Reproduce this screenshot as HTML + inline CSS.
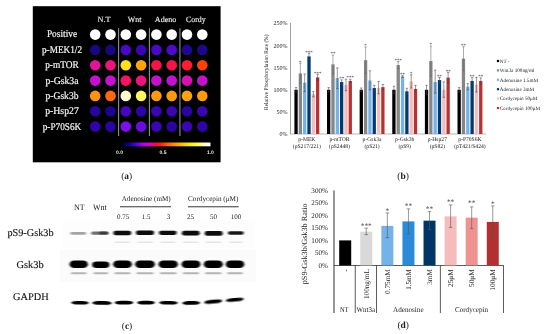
<!DOCTYPE html>
<html lang="en"><head><meta charset="utf-8"><title>Figure</title>
<style>html,body{margin:0;padding:0;background:#fff}body{width:550px;height:334px;overflow:hidden}svg{display:block}text{text-rendering:geometricPrecision}.fs{font-family:"Liberation Serif","DejaVu Serif",serif}.fn{font-family:"Liberation Sans","DejaVu Sans",sans-serif}</style></head><body>
<svg width="550" height="334" viewBox="0 0 550 334">
<defs>
<linearGradient id="cb" x1="0" x2="1" y1="0" y2="0">
<stop offset="0" stop-color="#000000"/>
<stop offset="0.05" stop-color="#000058"/>
<stop offset="0.12" stop-color="#2000b8"/>
<stop offset="0.18" stop-color="#6000ec"/>
<stop offset="0.25" stop-color="#b000f0"/>
<stop offset="0.31" stop-color="#e000c0"/>
<stop offset="0.38" stop-color="#f80060"/>
<stop offset="0.44" stop-color="#ff2010"/>
<stop offset="0.52" stop-color="#ff6000"/>
<stop offset="0.62" stop-color="#ffa000"/>
<stop offset="0.74" stop-color="#ffe000"/>
<stop offset="0.85" stop-color="#ffff40"/>
<stop offset="0.93" stop-color="#ffffc0"/>
<stop offset="1" stop-color="#ffffff"/>
</linearGradient>
<filter id="b1" x="-20%" y="-100%" width="140%" height="300%"><feGaussianBlur stdDeviation="1.3 0.7"/></filter>
<filter id="b2" x="-20%" y="-100%" width="140%" height="300%"><feGaussianBlur stdDeviation="1.2 0.5"/></filter>
<filter id="soft" x="-5%" y="-5%" width="110%" height="110%"><feGaussianBlur stdDeviation="0.35"/></filter>
</defs>
<rect width="550" height="334" fill="#fff"/>
<g id="pa">
<rect x="32.8" y="6.2" width="187.8" height="156.1" fill="#000"/>
<text class="fs" x="62" y="37.1" font-size="10.3" text-anchor="middle" fill="#f4f4f4" textLength="30.2" lengthAdjust="spacingAndGlyphs" stroke="#f4f4f4" stroke-width="0.2">Positive</text>
<circle cx="95.2" cy="34.6" r="5.3" fill="#ffffff"/>
<circle cx="110.5" cy="34.6" r="5.3" fill="#ffffff"/>
<circle cx="125.8" cy="34.6" r="5.3" fill="#ffffff"/>
<circle cx="141.1" cy="34.6" r="5.3" fill="#ffffff"/>
<circle cx="156.4" cy="34.6" r="5.3" fill="#ffffff"/>
<circle cx="171.7" cy="34.6" r="5.3" fill="#ffffff"/>
<circle cx="187.0" cy="34.6" r="5.3" fill="#ffffff"/>
<circle cx="202.3" cy="34.6" r="5.3" fill="#ffffff"/>
<text class="fs" x="62" y="53.0" font-size="10.3" text-anchor="middle" fill="#f4f4f4" textLength="40" lengthAdjust="spacingAndGlyphs" stroke="#f4f4f4" stroke-width="0.2">p-MEK1/2</text>
<circle cx="95.2" cy="49.9" r="5.3" fill="#180880"/>
<circle cx="110.5" cy="49.9" r="5.3" fill="#180880"/>
<circle cx="125.8" cy="49.9" r="5.3" fill="#4808c4"/>
<circle cx="141.1" cy="49.9" r="5.3" fill="#3a06b2"/>
<circle cx="156.4" cy="49.9" r="5.3" fill="#4808c4"/>
<circle cx="171.7" cy="49.9" r="5.3" fill="#5208cc"/>
<circle cx="187.0" cy="49.9" r="5.3" fill="#1e0890"/>
<circle cx="202.3" cy="49.9" r="5.3" fill="#1c088c"/>
<text class="fs" x="62" y="68.4" font-size="10.3" text-anchor="middle" fill="#f4f4f4" textLength="33.6" lengthAdjust="spacingAndGlyphs" stroke="#f4f4f4" stroke-width="0.2">p-mTOR</text>
<circle cx="95.2" cy="65.3" r="5.3" fill="#e0149a"/>
<circle cx="110.5" cy="65.3" r="5.3" fill="#ea167c"/>
<circle cx="125.8" cy="65.3" r="5.3" fill="#ffe01a"/>
<circle cx="141.1" cy="65.3" r="5.3" fill="#ffa50a"/>
<circle cx="156.4" cy="65.3" r="5.3" fill="#f41648"/>
<circle cx="171.7" cy="65.3" r="5.3" fill="#f41648"/>
<circle cx="187.0" cy="65.3" r="5.3" fill="#fa1c34"/>
<circle cx="202.3" cy="65.3" r="5.3" fill="#ff4208"/>
<text class="fs" x="62" y="83.7" font-size="10.3" text-anchor="middle" fill="#f4f4f4" textLength="32.9" lengthAdjust="spacingAndGlyphs" stroke="#f4f4f4" stroke-width="0.2">p-Gsk3a</text>
<circle cx="95.2" cy="80.6" r="5.3" fill="#c612d0"/>
<circle cx="110.5" cy="80.6" r="5.3" fill="#c612d0"/>
<circle cx="125.8" cy="80.6" r="5.3" fill="#f41462"/>
<circle cx="141.1" cy="80.6" r="5.3" fill="#ea147e"/>
<circle cx="156.4" cy="80.6" r="5.3" fill="#c212cc"/>
<circle cx="171.7" cy="80.6" r="5.3" fill="#c012d4"/>
<circle cx="187.0" cy="80.6" r="5.3" fill="#d412b2"/>
<circle cx="202.3" cy="80.6" r="5.3" fill="#c212ca"/>
<text class="fs" x="62" y="99.0" font-size="10.3" text-anchor="middle" fill="#f4f4f4" textLength="32.9" lengthAdjust="spacingAndGlyphs" stroke="#f4f4f4" stroke-width="0.2">p-Gsk3b</text>
<circle cx="95.2" cy="95.9" r="5.3" fill="#ff9210"/>
<circle cx="110.5" cy="95.9" r="5.3" fill="#ff6a10"/>
<circle cx="125.8" cy="95.9" r="5.3" fill="#fffad2"/>
<circle cx="141.1" cy="95.9" r="5.3" fill="#fff564"/>
<circle cx="156.4" cy="95.9" r="5.3" fill="#ff9a10"/>
<circle cx="171.7" cy="95.9" r="5.3" fill="#ff9a10"/>
<circle cx="187.0" cy="95.9" r="5.3" fill="#ffa210"/>
<circle cx="202.3" cy="95.9" r="5.3" fill="#ff9a10"/>
<text class="fs" x="62" y="114.3" font-size="10.3" text-anchor="middle" fill="#f4f4f4" textLength="33.6" lengthAdjust="spacingAndGlyphs" stroke="#f4f4f4" stroke-width="0.2">p-Hsp27</text>
<circle cx="95.2" cy="111.2" r="5.3" fill="#2a04a0"/>
<circle cx="110.5" cy="111.2" r="5.3" fill="#1c0490"/>
<circle cx="125.8" cy="111.2" r="5.3" fill="#4806c4"/>
<circle cx="141.1" cy="111.2" r="5.3" fill="#2e04a8"/>
<circle cx="156.4" cy="111.2" r="5.3" fill="#3a06b2"/>
<circle cx="171.7" cy="111.2" r="5.3" fill="#3a06b2"/>
<circle cx="187.0" cy="111.2" r="5.3" fill="#2a04a0"/>
<circle cx="202.3" cy="111.2" r="5.3" fill="#3a06b2"/>
<text class="fs" x="62" y="129.7" font-size="10.3" text-anchor="middle" fill="#f4f4f4" textLength="38.6" lengthAdjust="spacingAndGlyphs" stroke="#f4f4f4" stroke-width="0.2">p-P70S6K</text>
<circle cx="95.2" cy="126.6" r="5.3" fill="#3004a8"/>
<circle cx="110.5" cy="126.6" r="5.3" fill="#2a04a0"/>
<circle cx="125.8" cy="126.6" r="5.3" fill="#7a10ea"/>
<circle cx="141.1" cy="126.6" r="5.3" fill="#6a0cde"/>
<circle cx="156.4" cy="126.6" r="5.3" fill="#3a06b2"/>
<circle cx="171.7" cy="126.6" r="5.3" fill="#2a04a0"/>
<circle cx="187.0" cy="126.6" r="5.3" fill="#3a06b2"/>
<circle cx="202.3" cy="126.6" r="5.3" fill="#3004a8"/>
<rect x="118.2" y="28.2" width="0.9" height="107.8" fill="#adadad"/>
<rect x="148.9" y="28.2" width="0.9" height="107.8" fill="#adadad"/>
<rect x="179.5" y="28.2" width="0.9" height="107.8" fill="#adadad"/>
<text class="fs" x="104" y="22.0" font-size="8" text-anchor="middle" fill="#f0f0f0" textLength="13" lengthAdjust="spacingAndGlyphs" stroke="#f0f0f0" stroke-width="0.12">N.T</text>
<text class="fs" x="134.6" y="22.0" font-size="8" text-anchor="middle" fill="#f0f0f0" textLength="13.5" lengthAdjust="spacingAndGlyphs" stroke="#f0f0f0" stroke-width="0.12">Wnt</text>
<text class="fs" x="165.6" y="22.0" font-size="8" text-anchor="middle" fill="#f0f0f0" textLength="21.5" lengthAdjust="spacingAndGlyphs" stroke="#f0f0f0" stroke-width="0.12">Adeno</text>
<text class="fs" x="195.8" y="22.0" font-size="8" text-anchor="middle" fill="#f0f0f0" textLength="19.5" lengthAdjust="spacingAndGlyphs" stroke="#f0f0f0" stroke-width="0.12">Cordy</text>
<rect x="121" y="142.5" width="89.5" height="3.8" fill="url(#cb)"/>
<text class="fn" x="119.6" y="154.2" font-size="5" text-anchor="middle" fill="#e8e8e8" font-weight="bold">0.0</text>
<text class="fn" x="163" y="154.2" font-size="5" text-anchor="middle" fill="#e8e8e8" font-weight="bold">0.5</text>
<text class="fn" x="210.4" y="154.2" font-size="5" text-anchor="middle" fill="#e8e8e8" font-weight="bold">1.0</text>
</g>
<text class="fs" x="126.6" y="178.8" font-size="9.4" text-anchor="middle" fill="#1a1a1a">(<tspan font-weight="bold">a</tspan>)</text>
<g id="pb">
<rect x="290.04999999999995" y="23" width="0.7" height="111.0" fill="#7a7a7a"/>
<rect x="290.4" y="133.65" width="195.60000000000002" height="0.7" fill="#9a9a9a"/>
<text class="fs" x="287.4" y="135.9" font-size="6.0" text-anchor="end" fill="#1a1a1a">0%</text>
<text class="fs" x="287.4" y="113.8" font-size="6.0" text-anchor="end" fill="#1a1a1a">50%</text>
<text class="fs" x="287.4" y="91.7" font-size="6.0" text-anchor="end" fill="#1a1a1a">100%</text>
<text class="fs" x="287.4" y="69.6" font-size="6.0" text-anchor="end" fill="#1a1a1a">150%</text>
<text class="fs" x="287.4" y="47.5" font-size="6.0" text-anchor="end" fill="#1a1a1a">200%</text>
<text class="fs" x="287.4" y="25.4" font-size="6.0" text-anchor="end" fill="#1a1a1a">250%</text>
<text class="fs" x="267.7" y="72.2" font-size="5.8" text-anchor="middle" fill="#1a1a1a" textLength="75.5" lengthAdjust="spacingAndGlyphs" transform="rotate(-90 267.7 72.2)">Relative Phosphorylation Rate (%)</text>
<rect x="294.40" y="89.80" width="3.3" height="44.20" fill="#000000"/>
<path d="M296.05 87.59V92.01M294.85 87.59h2.4M294.85 92.01h2.4" stroke="#444" stroke-width="0.55" fill="none"/>
<rect x="298.72" y="73.45" width="3.3" height="60.55" fill="#868686"/>
<path d="M300.37 63.28V83.61M299.17 63.28h2.4M299.17 83.61h2.4" stroke="#666" stroke-width="0.55" fill="none"/>
<text class="fs" x="300.37" y="63.58" font-size="5" text-anchor="middle" fill="#333">*</text>
<rect x="303.04" y="82.73" width="3.3" height="51.27" fill="#74b2ea"/>
<path d="M304.69 73.89V91.57M303.49 73.89h2.4M303.49 91.57h2.4" stroke="#444" stroke-width="0.55" fill="none"/>
<rect x="307.36" y="56.43" width="3.3" height="77.57" fill="#003a74"/>
<path d="M309.01 53.33V59.52M307.81 53.33h2.4M307.81 59.52h2.4" stroke="#444" stroke-width="0.55" fill="none"/>
<text class="fs" x="309.01" y="53.63" font-size="5" text-anchor="middle" fill="#333">***</text>
<rect x="311.68" y="94.22" width="3.3" height="39.78" fill="#f7bcbc"/>
<path d="M313.33 91.57V96.87M312.13 91.57h2.4M312.13 96.87h2.4" stroke="#444" stroke-width="0.55" fill="none"/>
<rect x="316.00" y="77.42" width="3.3" height="56.58" fill="#b83232"/>
<path d="M317.65 74.33V80.52M316.45 74.33h2.4M316.45 80.52h2.4" stroke="#444" stroke-width="0.55" fill="none"/>
<text class="fs" x="317.65" y="74.63" font-size="5" text-anchor="middle" fill="#333">***</text>
<text class="fs" x="306.8" y="141.2" font-size="5.6" text-anchor="middle" fill="#1a1a1a">p-MEK</text>
<text class="fs" x="306.8" y="147.8" font-size="5.6" text-anchor="middle" fill="#1a1a1a">(pS217/221)</text>
<rect x="327.02" y="89.80" width="3.3" height="44.20" fill="#000000"/>
<path d="M328.67 87.59V92.01M327.47 87.59h2.4M327.47 92.01h2.4" stroke="#444" stroke-width="0.55" fill="none"/>
<rect x="331.34" y="64.39" width="3.3" height="69.61" fill="#868686"/>
<path d="M332.99 55.10V73.67M331.79 55.10h2.4M331.79 73.67h2.4" stroke="#666" stroke-width="0.55" fill="none"/>
<text class="fs" x="332.99" y="55.4" font-size="5" text-anchor="middle" fill="#333">**</text>
<rect x="335.66" y="78.09" width="3.3" height="55.91" fill="#74b2ea"/>
<path d="M337.31 67.92V88.69M336.11 67.92h2.4M336.11 88.69h2.4" stroke="#444" stroke-width="0.55" fill="none"/>
<rect x="339.98" y="82.06" width="3.3" height="51.94" fill="#003a74"/>
<path d="M341.63 79.85V84.28M340.43 79.85h2.4M340.43 84.28h2.4" stroke="#444" stroke-width="0.55" fill="none"/>
<text class="fs" x="341.63" y="80.15" font-size="5" text-anchor="middle" fill="#333">**</text>
<rect x="344.30" y="84.94" width="3.3" height="49.06" fill="#f7bcbc"/>
<path d="M345.95 79.19V90.68M344.75 79.19h2.4M344.75 90.68h2.4" stroke="#444" stroke-width="0.55" fill="none"/>
<rect x="348.62" y="80.96" width="3.3" height="53.04" fill="#b83232"/>
<path d="M350.27 79.19V82.73M349.07 79.19h2.4M349.07 82.73h2.4" stroke="#444" stroke-width="0.55" fill="none"/>
<text class="fs" x="350.27" y="79.49" font-size="5" text-anchor="middle" fill="#333">***</text>
<text class="fs" x="339.5" y="141.2" font-size="5.6" text-anchor="middle" fill="#1a1a1a">p-mTOR</text>
<text class="fs" x="339.5" y="147.8" font-size="5.6" text-anchor="middle" fill="#1a1a1a">(pS2448)</text>
<rect x="359.64" y="89.80" width="3.3" height="44.20" fill="#000000"/>
<path d="M361.29 88.03V91.57M360.09 88.03h2.4M360.09 91.57h2.4" stroke="#444" stroke-width="0.55" fill="none"/>
<rect x="363.96" y="60.19" width="3.3" height="73.81" fill="#868686"/>
<path d="M365.61 46.93V73.45M364.41 46.93h2.4M364.41 73.45h2.4" stroke="#666" stroke-width="0.55" fill="none"/>
<text class="fs" x="365.61" y="47.23" font-size="5" text-anchor="middle" fill="#333">*</text>
<rect x="368.28" y="80.52" width="3.3" height="53.48" fill="#74b2ea"/>
<path d="M369.93 70.79V89.80M368.73 70.79h2.4M368.73 89.80h2.4" stroke="#444" stroke-width="0.55" fill="none"/>
<rect x="372.60" y="88.03" width="3.3" height="45.97" fill="#003a74"/>
<path d="M374.25 85.38V90.68M373.05 85.38h2.4M373.05 90.68h2.4" stroke="#444" stroke-width="0.55" fill="none"/>
<rect x="376.92" y="88.03" width="3.3" height="45.97" fill="#f7bcbc"/>
<path d="M378.57 81.40V93.78M377.37 81.40h2.4M377.37 93.78h2.4" stroke="#444" stroke-width="0.55" fill="none"/>
<rect x="381.24" y="87.15" width="3.3" height="46.85" fill="#b83232"/>
<path d="M382.89 84.50V89.80M381.69 84.50h2.4M381.69 89.80h2.4" stroke="#444" stroke-width="0.55" fill="none"/>
<text class="fs" x="372.1" y="141.2" font-size="5.6" text-anchor="middle" fill="#1a1a1a">p-Gsk3a</text>
<text class="fs" x="372.1" y="147.8" font-size="5.6" text-anchor="middle" fill="#1a1a1a">(pS21)</text>
<rect x="392.26" y="89.80" width="3.3" height="44.20" fill="#000000"/>
<path d="M393.91 86.26V93.34M392.71 86.26h2.4M392.71 93.34h2.4" stroke="#444" stroke-width="0.55" fill="none"/>
<rect x="396.58" y="65.05" width="3.3" height="68.95" fill="#868686"/>
<path d="M398.23 61.51V68.58M397.03 61.51h2.4M397.03 68.58h2.4" stroke="#666" stroke-width="0.55" fill="none"/>
<text class="fs" x="398.23" y="61.81" font-size="5" text-anchor="middle" fill="#333">***</text>
<rect x="400.90" y="76.54" width="3.3" height="57.46" fill="#74b2ea"/>
<path d="M402.55 75.66V77.42M401.35 75.66h2.4M401.35 77.42h2.4" stroke="#444" stroke-width="0.55" fill="none"/>
<text class="fs" x="402.55" y="75.96" font-size="5" text-anchor="middle" fill="#333">**</text>
<rect x="405.22" y="91.35" width="3.3" height="42.65" fill="#003a74"/>
<path d="M406.87 88.25V94.44M405.67 88.25h2.4M405.67 94.44h2.4" stroke="#444" stroke-width="0.55" fill="none"/>
<rect x="409.54" y="81.40" width="3.3" height="52.60" fill="#f7bcbc"/>
<path d="M411.19 74.77V88.03M409.99 74.77h2.4M409.99 88.03h2.4" stroke="#444" stroke-width="0.55" fill="none"/>
<text class="fs" x="411.19" y="75.07" font-size="5" text-anchor="middle" fill="#333">*</text>
<rect x="413.86" y="88.92" width="3.3" height="45.08" fill="#b83232"/>
<path d="M415.51 85.38V92.45M414.31 85.38h2.4M414.31 92.45h2.4" stroke="#444" stroke-width="0.55" fill="none"/>
<text class="fs" x="404.7" y="141.2" font-size="5.6" text-anchor="middle" fill="#1a1a1a">p-Gsk3b</text>
<text class="fs" x="404.7" y="147.8" font-size="5.6" text-anchor="middle" fill="#1a1a1a">(pS9)</text>
<rect x="424.88" y="89.80" width="3.3" height="44.20" fill="#000000"/>
<path d="M426.53 85.38V94.22M425.33 85.38h2.4M425.33 94.22h2.4" stroke="#444" stroke-width="0.55" fill="none"/>
<rect x="429.20" y="61.07" width="3.3" height="72.93" fill="#868686"/>
<path d="M430.85 46.04V76.10M429.65 46.04h2.4M429.65 76.10h2.4" stroke="#666" stroke-width="0.55" fill="none"/>
<text class="fs" x="430.85" y="46.34" font-size="5" text-anchor="middle" fill="#333">*</text>
<rect x="433.52" y="82.06" width="3.3" height="51.94" fill="#74b2ea"/>
<path d="M435.17 70.13V93.12M433.97 70.13h2.4M433.97 93.12h2.4" stroke="#444" stroke-width="0.55" fill="none"/>
<rect x="437.84" y="80.08" width="3.3" height="53.92" fill="#003a74"/>
<path d="M439.49 77.42V82.73M438.29 77.42h2.4M438.29 82.73h2.4" stroke="#444" stroke-width="0.55" fill="none"/>
<text class="fs" x="439.49" y="77.72" font-size="5" text-anchor="middle" fill="#333">**</text>
<rect x="442.16" y="89.80" width="3.3" height="44.20" fill="#f7bcbc"/>
<path d="M443.81 81.84V97.31M442.61 81.84h2.4M442.61 97.31h2.4" stroke="#444" stroke-width="0.55" fill="none"/>
<rect x="446.48" y="77.64" width="3.3" height="56.36" fill="#b83232"/>
<path d="M448.13 72.34V82.95M446.93 72.34h2.4M446.93 82.95h2.4" stroke="#444" stroke-width="0.55" fill="none"/>
<text class="fs" x="448.13" y="72.64" font-size="5" text-anchor="middle" fill="#333">**</text>
<text class="fs" x="437.3" y="141.2" font-size="5.6" text-anchor="middle" fill="#1a1a1a">p-Hsp27</text>
<text class="fs" x="437.3" y="147.8" font-size="5.6" text-anchor="middle" fill="#1a1a1a">(pS82)</text>
<rect x="457.50" y="89.80" width="3.3" height="44.20" fill="#000000"/>
<path d="M459.15 87.59V92.01M457.95 87.59h2.4M457.95 92.01h2.4" stroke="#444" stroke-width="0.55" fill="none"/>
<rect x="461.82" y="58.64" width="3.3" height="75.36" fill="#868686"/>
<path d="M463.47 46.70V70.57M462.27 46.70h2.4M462.27 70.57h2.4" stroke="#666" stroke-width="0.55" fill="none"/>
<text class="fs" x="463.47" y="47.0" font-size="5" text-anchor="middle" fill="#333">**</text>
<rect x="466.14" y="86.71" width="3.3" height="47.29" fill="#74b2ea"/>
<path d="M467.79 83.61V89.80M466.59 83.61h2.4M466.59 89.80h2.4" stroke="#444" stroke-width="0.55" fill="none"/>
<rect x="470.46" y="80.96" width="3.3" height="53.04" fill="#003a74"/>
<path d="M472.11 77.42V84.50M470.91 77.42h2.4M470.91 84.50h2.4" stroke="#444" stroke-width="0.55" fill="none"/>
<text class="fs" x="472.11" y="77.72" font-size="5" text-anchor="middle" fill="#333">**</text>
<rect x="474.78" y="84.50" width="3.3" height="49.50" fill="#f7bcbc"/>
<path d="M476.43 77.42V92.01M475.23 77.42h2.4M475.23 92.01h2.4" stroke="#444" stroke-width="0.55" fill="none"/>
<rect x="479.10" y="80.96" width="3.3" height="53.04" fill="#b83232"/>
<path d="M480.75 77.87V84.05M479.55 77.87h2.4M479.55 84.05h2.4" stroke="#444" stroke-width="0.55" fill="none"/>
<text class="fs" x="480.75" y="78.17" font-size="5" text-anchor="middle" fill="#333">**</text>
<text class="fs" x="469.9" y="141.2" font-size="5.6" text-anchor="middle" fill="#1a1a1a">p-P70S6K</text>
<text class="fs" x="469.9" y="147.8" font-size="5.6" text-anchor="middle" fill="#1a1a1a">(pT421/S424)</text>
<rect x="496.9" y="59.9" width="2.2" height="2.2" fill="#000000"/>
<text class="fs" x="499.7" y="62.8" font-size="5.15" text-anchor="start" fill="#1a1a1a">NT  -</text>
<rect x="496.9" y="69.3" width="2.2" height="2.2" fill="#868686"/>
<text class="fs" x="499.7" y="72.2" font-size="5.15" text-anchor="start" fill="#1a1a1a">Wnt3a 100ng/ml</text>
<rect x="496.9" y="78.7" width="2.2" height="2.2" fill="#74b2ea"/>
<text class="fs" x="499.7" y="81.6" font-size="5.15" text-anchor="start" fill="#1a1a1a">Adenosine 1.5mM</text>
<rect x="496.9" y="88.1" width="2.2" height="2.2" fill="#003a74"/>
<text class="fs" x="499.7" y="91.0" font-size="5.15" text-anchor="start" fill="#1a1a1a">Adenosine 3mM</text>
<rect x="496.9" y="97.5" width="2.2" height="2.2" fill="#f7bcbc"/>
<text class="fs" x="499.7" y="100.4" font-size="5.15" text-anchor="start" fill="#1a1a1a">Cordycepin 50μM</text>
<rect x="496.9" y="106.9" width="2.2" height="2.2" fill="#b83232"/>
<text class="fs" x="499.7" y="109.8" font-size="5.15" text-anchor="start" fill="#1a1a1a">Cordycepin 100μM</text>
</g>
<text class="fs" x="403.1" y="178.8" font-size="9.5" text-anchor="middle" fill="#1a1a1a">(<tspan font-weight="bold">b</tspan>)</text>
<g id="pc">
<rect x="63" y="220" width="192" height="28" fill="#fdfdfd" filter="url(#soft)"/>
<rect x="60" y="250" width="196" height="32" fill="#fbfbfb" filter="url(#soft)"/>
<text class="fs" x="30.5" y="236.0" font-size="10.4" text-anchor="middle" fill="#1a1a1a" textLength="46.2" lengthAdjust="spacingAndGlyphs" stroke="#1a1a1a" stroke-width="0.15">pS9-Gsk3b</text>
<text class="fs" x="30" y="267.9" font-size="10.4" text-anchor="middle" fill="#1a1a1a" textLength="27.2" lengthAdjust="spacingAndGlyphs" stroke="#1a1a1a" stroke-width="0.15">Gsk3b</text>
<text class="fs" x="30.8" y="299.9" font-size="10.4" text-anchor="middle" fill="#1a1a1a" textLength="35.6" lengthAdjust="spacingAndGlyphs" stroke="#1a1a1a" stroke-width="0.15">GAPDH</text>
<text class="fs" x="79.3" y="210" font-size="8.6" text-anchor="middle" fill="#222" textLength="10.6" lengthAdjust="spacingAndGlyphs">NT</text>
<text class="fs" x="99.9" y="210.4" font-size="8.6" text-anchor="middle" fill="#222" textLength="13.8" lengthAdjust="spacingAndGlyphs">Wnt</text>
<text class="fs" x="146.2" y="200.9" font-size="7.3" text-anchor="middle" fill="#222" textLength="49" lengthAdjust="spacingAndGlyphs">Adenosine (mM)</text>
<text class="fs" x="213.2" y="200.9" font-size="7.3" text-anchor="middle" fill="#222" textLength="50.4" lengthAdjust="spacingAndGlyphs">Cordycepin (μM)</text>
<rect x="120" y="206.2" width="51" height="1.1" fill="#4a4a4a"/>
<rect x="188" y="206.2" width="50.6" height="1.1" fill="#4a4a4a"/>
<text class="fs" x="123" y="219" font-size="7.0" text-anchor="middle" fill="#222">0.75</text>
<text class="fs" x="146" y="219" font-size="7.0" text-anchor="middle" fill="#222">1.5</text>
<text class="fs" x="168.4" y="219" font-size="7.0" text-anchor="middle" fill="#222">3</text>
<text class="fs" x="190.6" y="219" font-size="7.0" text-anchor="middle" fill="#222">25</text>
<text class="fs" x="213.6" y="219" font-size="7.0" text-anchor="middle" fill="#222">50</text>
<text class="fs" x="236" y="219" font-size="7.0" text-anchor="middle" fill="#222">100</text>
<rect x="70.3" y="232.1" width="15.8" height="2.6" rx="1.3" fill="#a4a4a4" filter="url(#b1)"/>
<rect x="91.3" y="231.6" width="17.0" height="3.2" rx="1.6" fill="#707070" filter="url(#b1)"/>
<rect x="113.3" y="230.7" width="18.0" height="4.6" rx="2.3" fill="#0a0a0a" filter="url(#b1)"/>
<rect x="135.9" y="230.6" width="18.2" height="4.4" rx="2.2" fill="#0a0a0a" filter="url(#b1)"/>
<rect x="158.9" y="230.7" width="17.8" height="4.2" rx="2.1" fill="#101010" filter="url(#b1)"/>
<rect x="181.9" y="230.8" width="17.8" height="4.8" rx="2.4" fill="#0a0a0a" filter="url(#b1)"/>
<rect x="204.7" y="231.1" width="18.0" height="4.6" rx="2.3" fill="#0a0a0a" filter="url(#b1)"/>
<rect x="227.9" y="231.2" width="15.8" height="3.6" rx="1.8" fill="#181818" filter="url(#b1)"/>
<rect x="99" y="231.4" width="9" height="3.2" rx="1.6" fill="#3c3c3c" filter="url(#b1)"/>
<rect x="114.5" y="241.5" width="15.6" height="1.6" rx="0.8" fill="#e4e4e4" filter="url(#b2)"/>
<rect x="137.1" y="241.5" width="15.8" height="1.6" rx="0.8" fill="#e4e4e4" filter="url(#b2)"/>
<rect x="160.1" y="241.5" width="15.4" height="1.6" rx="0.8" fill="#e4e4e4" filter="url(#b2)"/>
<rect x="183.1" y="241.5" width="15.4" height="1.6" rx="0.8" fill="#e4e4e4" filter="url(#b2)"/>
<rect x="205.9" y="241.5" width="15.6" height="1.6" rx="0.8" fill="#e4e4e4" filter="url(#b2)"/>
<rect x="229.1" y="241.5" width="13.4" height="1.6" rx="0.8" fill="#e4e4e4" filter="url(#b2)"/>
<rect x="69.6" y="260.5" width="18.2" height="7.6" rx="4.6" ry="3.8" fill="#040404" filter="url(#b1)"/>
<rect x="70.9" y="272.3" width="15.6" height="2" rx="1" fill="#b4b4b4" filter="url(#b2)"/>
<rect x="92.2" y="261.5" width="17.2" height="6.6" rx="4.6" ry="3.3" fill="#040404" filter="url(#b1)"/>
<rect x="93.5" y="272.3" width="14.6" height="2" rx="1" fill="#b4b4b4" filter="url(#b2)"/>
<rect x="113.2" y="260.5" width="18.6" height="7.6" rx="4.6" ry="3.8" fill="#040404" filter="url(#b1)"/>
<rect x="114.5" y="272.3" width="16.0" height="2" rx="1" fill="#b4b4b4" filter="url(#b2)"/>
<rect x="135.2" y="260.5" width="19.6" height="7.6" rx="4.6" ry="3.8" fill="#040404" filter="url(#b1)"/>
<rect x="136.5" y="272.3" width="17.0" height="2" rx="1" fill="#b4b4b4" filter="url(#b2)"/>
<rect x="158.6" y="260.5" width="19.2" height="7.6" rx="4.6" ry="3.8" fill="#040404" filter="url(#b1)"/>
<rect x="159.9" y="272.3" width="16.6" height="2" rx="1" fill="#b4b4b4" filter="url(#b2)"/>
<rect x="181.6" y="260.5" width="18.8" height="7.6" rx="4.6" ry="3.8" fill="#040404" filter="url(#b1)"/>
<rect x="182.9" y="272.3" width="16.2" height="2" rx="1" fill="#b4b4b4" filter="url(#b2)"/>
<rect x="203.8" y="260.5" width="19.0" height="7.6" rx="4.6" ry="3.8" fill="#040404" filter="url(#b1)"/>
<rect x="205.1" y="272.3" width="16.4" height="2" rx="1" fill="#b4b4b4" filter="url(#b2)"/>
<rect x="225.8" y="260.5" width="18.4" height="7.6" rx="4.6" ry="3.8" fill="#040404" filter="url(#b1)"/>
<rect x="227.1" y="272.3" width="15.8" height="2" rx="1" fill="#b4b4b4" filter="url(#b2)"/>
<rect x="71.3" y="300.9" width="17.4" height="3.7" rx="6" ry="1.85" fill="#040404" filter="url(#b2)" transform="rotate(1 80.0 302.8)"/>
<rect x="92.3" y="301.1" width="19.4" height="3.7" rx="6" ry="1.85" fill="#040404" filter="url(#b2)" transform="rotate(1 102.0 303)"/>
<rect x="114.9" y="300.8" width="18.2" height="3.7" rx="6" ry="1.85" fill="#040404" filter="url(#b2)" transform="rotate(0 124.0 302.6)"/>
<rect x="137.3" y="300.8" width="17.4" height="3.7" rx="6" ry="1.85" fill="#040404" filter="url(#b2)" transform="rotate(0 146.0 302.6)"/>
<rect x="159.3" y="300.9" width="18.4" height="3.7" rx="6" ry="1.85" fill="#040404" filter="url(#b2)" transform="rotate(1 168.5 302.8)"/>
<rect x="182.3" y="301.1" width="17.8" height="3.7" rx="6" ry="1.85" fill="#040404" filter="url(#b2)" transform="rotate(-1 191.2 303)"/>
<rect x="204.3" y="299.8" width="17.8" height="3.7" rx="6" ry="1.85" fill="#040404" filter="url(#b2)" transform="rotate(-5 213.2 301.6)"/>
<rect x="225.9" y="297.9" width="17.8" height="3.7" rx="6" ry="1.85" fill="#040404" filter="url(#b2)" transform="rotate(-5 234.8 299.8)"/>
</g>
<text class="fs" x="127" y="328.6" font-size="9.5" text-anchor="middle" fill="#1a1a1a">(<tspan font-weight="bold">c</tspan>)</text>
<g id="pd">
<rect x="333.45" y="190.4" width="1.1" height="122.6" fill="#444"/>
<rect x="334" y="265.0" width="169.6" height="0.8" fill="#333"/>
<rect x="354.8" y="265.4" width="0.8" height="47.6" fill="#333"/>
<rect x="376.1" y="265.4" width="0.8" height="47.6" fill="#333"/>
<rect x="439.9" y="265.4" width="0.8" height="47.6" fill="#333"/>
<rect x="503.1" y="265.4" width="0.8" height="47.6" fill="#333"/>
<text class="fs" x="328.0" y="267.7" font-size="7.15" text-anchor="end" fill="#1a1a1a">0%</text>
<text class="fs" x="328.0" y="255.2" font-size="7.15" text-anchor="end" fill="#1a1a1a">50%</text>
<text class="fs" x="328.0" y="242.7" font-size="7.15" text-anchor="end" fill="#1a1a1a">100%</text>
<text class="fs" x="328.0" y="230.2" font-size="7.15" text-anchor="end" fill="#1a1a1a">150%</text>
<text class="fs" x="328.0" y="217.7" font-size="7.15" text-anchor="end" fill="#1a1a1a">200%</text>
<text class="fs" x="328.0" y="205.2" font-size="7.15" text-anchor="end" fill="#1a1a1a">250%</text>
<text class="fs" x="328.0" y="192.7" font-size="7.15" text-anchor="end" fill="#1a1a1a">300%</text>
<text class="fs" x="307.0" y="243.8" font-size="7.9" text-anchor="middle" fill="#1a1a1a" textLength="81" lengthAdjust="spacingAndGlyphs" transform="rotate(-90 307.0 243.8)">pS9-Gsk3b/Gsk3b Ratio</text>
<rect x="339.20" y="240.40" width="12" height="25.00" fill="#000000"/>
<text class="fs" x="347.7" y="269.2" font-size="7.3" text-anchor="end" fill="#222" transform="rotate(-90 347.7 269.2)">-</text>
<rect x="360.28" y="231.65" width="12" height="33.75" fill="#d9d9d9"/>
<path d="M366.28 228.15V234.65M364.48 228.15h3.6M364.48 234.65h3.6" stroke="#555" stroke-width="0.6" fill="none"/>
<text class="fs" x="366.28" y="227.5" font-size="7.3" text-anchor="middle" fill="#333">***</text>
<text class="fs" x="368.78" y="269.2" font-size="7.3" text-anchor="end" fill="#222" textLength="29.8" lengthAdjust="spacingAndGlyphs" transform="rotate(-90 368.78 269.2)">100ng/mL</text>
<rect x="381.36" y="225.90" width="12" height="39.50" fill="#74b2ea"/>
<path d="M387.36 212.90V237.65M385.56 212.90h3.6M385.56 237.65h3.6" stroke="#555" stroke-width="0.6" fill="none"/>
<text class="fs" x="387.36" y="212.5" font-size="7.3" text-anchor="middle" fill="#333">*</text>
<text class="fs" x="389.86" y="269.2" font-size="7.3" text-anchor="end" fill="#222" textLength="24.8" lengthAdjust="spacingAndGlyphs" transform="rotate(-90 389.86 269.2)">0.75mM</text>
<rect x="402.44" y="221.40" width="12" height="44.00" fill="#2a8bd8"/>
<path d="M408.44 208.90V233.90M406.64 208.90h3.6M406.64 233.90h3.6" stroke="#555" stroke-width="0.6" fill="none"/>
<text class="fs" x="408.44" y="207.5" font-size="7.3" text-anchor="middle" fill="#333">**</text>
<text class="fs" x="410.94" y="269.2" font-size="7.3" text-anchor="end" fill="#222" textLength="20.6" lengthAdjust="spacingAndGlyphs" transform="rotate(-90 410.94 269.2)">1.5mM</text>
<rect x="423.52" y="220.65" width="12" height="44.75" fill="#003566"/>
<path d="M429.52 211.65V229.40M427.72 211.65h3.6M427.72 229.40h3.6" stroke="#555" stroke-width="0.6" fill="none"/>
<text class="fs" x="429.52" y="210.5" font-size="7.3" text-anchor="middle" fill="#333">**</text>
<text class="fs" x="432.02" y="269.2" font-size="7.3" text-anchor="end" fill="#222" textLength="15.6" lengthAdjust="spacingAndGlyphs" transform="rotate(-90 432.02 269.2)">3mM</text>
<rect x="444.60" y="216.40" width="12" height="49.00" fill="#f5bcbc"/>
<path d="M450.60 204.90V227.40M448.80 204.90h3.6M448.80 227.40h3.6" stroke="#555" stroke-width="0.6" fill="none"/>
<text class="fs" x="450.6" y="203.7" font-size="7.3" text-anchor="middle" fill="#333">**</text>
<text class="fs" x="453.1" y="269.2" font-size="7.3" text-anchor="end" fill="#222" textLength="17.8" lengthAdjust="spacingAndGlyphs" transform="rotate(-90 453.1 269.2)">25μM</text>
<rect x="465.68" y="217.65" width="12" height="47.75" fill="#ee9292"/>
<path d="M471.68 206.90V228.65M469.88 206.90h3.6M469.88 228.65h3.6" stroke="#555" stroke-width="0.6" fill="none"/>
<text class="fs" x="471.68" y="205.1" font-size="7.3" text-anchor="middle" fill="#333">**</text>
<text class="fs" x="474.18" y="269.2" font-size="7.3" text-anchor="end" fill="#222" textLength="17.8" lengthAdjust="spacingAndGlyphs" transform="rotate(-90 474.18 269.2)">50μM</text>
<rect x="486.76" y="221.90" width="12" height="43.50" fill="#b23030"/>
<path d="M492.76 205.90V237.65M490.96 205.90h3.6M490.96 237.65h3.6" stroke="#555" stroke-width="0.6" fill="none"/>
<text class="fs" x="492.76" y="206.1" font-size="7.3" text-anchor="middle" fill="#333">*</text>
<text class="fs" x="495.26" y="269.2" font-size="7.3" text-anchor="end" fill="#222" textLength="21.5" lengthAdjust="spacingAndGlyphs" transform="rotate(-90 495.26 269.2)">100μM</text>
<text class="fs" x="344.2" y="311.7" font-size="7.4" text-anchor="middle" fill="#222" textLength="8.6" lengthAdjust="spacingAndGlyphs">NT</text>
<text class="fs" x="365.8" y="311.7" font-size="7.4" text-anchor="middle" fill="#222" textLength="18.4" lengthAdjust="spacingAndGlyphs">Wnt3a</text>
<text class="fs" x="408.3" y="311.7" font-size="7.4" text-anchor="middle" fill="#222" textLength="30.6" lengthAdjust="spacingAndGlyphs">Adenosine</text>
<text class="fs" x="471.5" y="311.7" font-size="7.4" text-anchor="middle" fill="#222" textLength="33" lengthAdjust="spacingAndGlyphs">Cordycepin</text>
</g>
<text class="fs" x="403.2" y="328.4" font-size="9.4" text-anchor="middle" fill="#1a1a1a">(<tspan font-weight="bold">d</tspan>)</text>
</svg></body></html>
